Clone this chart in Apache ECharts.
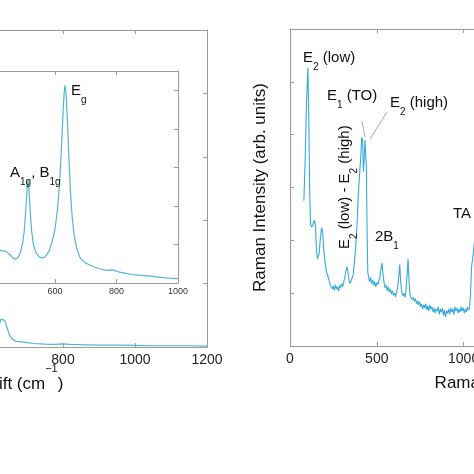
<!DOCTYPE html>
<html><head><meta charset="utf-8">
<script src="https://cdn.jsdelivr.net/npm/echarts/dist/echarts.min.js"></script>
<style>html,body{margin:0;padding:0;background:#fff}#c{width:474px;height:474px}</style>
</head><body><div id="c"></div>
<script>
// ---- Data ----
const shiftOuter = [400,500,512,530,600,620,628,633,638,645,652,660,670,685,700,720,750,780,800,820,860,900,950,1000,1050,1100,1150,1200];
const intOuter   = [0.10,0.12,0.22,0.10,0.15,0.30,0.44,0.47,0.42,0.30,0.18,0.12,0.09,0.08,0.07,0.055,0.045,0.04,0.05,0.04,0.035,0.03,0.03,0.025,0.02,0.02,0.02,0.015];

const shiftInset = [400,420,440,455,465,472,480,488,495,500,505,509,512,515,519,524,530,540,550,560,570,580,590,600,608,615,621,626,630,633,636,640,645,650,656,662,670,680,690,700,715,730,745,760,775,785,795,810,830,850,880,910,950,1000];
const intInset   = [0.90,0.85,0.82,0.72,0.64,0.62,0.66,0.80,1.05,1.35,1.90,2.40,2.67,2.45,1.90,1.35,0.98,0.76,0.67,0.65,0.70,0.82,1.05,1.40,1.90,2.60,3.50,4.40,4.95,5.13,4.90,4.30,3.30,2.40,1.70,1.25,0.92,0.68,0.58,0.52,0.46,0.41,0.37,0.34,0.33,0.34,0.32,0.28,0.25,0.22,0.20,0.18,0.14,0.11];

const shiftRight = [80,88,95,103,108,113,118,125,132,140,146,152,158,163,168,175,182,188,195,203,210,218,225,232,238,244,250,256,262,268,274,280,286,292,298,304,310,316,322,328,334,340,346,352,358,364,370,378,386,394,402,408,413,418,423,427,432,436,440,444,448,452,458,464,470,476,482,488,494,500,506,512,518,524,530,536,542,548,554,560,566,572,578,584,590,596,602,608,614,620,626,632,638,644,650,656,662,668,674,680,686,692,698,704,710,716,722,728,734,740,746,752,758,764,770,776,782,788,794,800,806,812,818,824,830,836,842,848,854,860,866,872,878,884,890,896,902,908,914,920,926,932,938,944,950,956,962,968,974,980,986,992,998,1004,1010,1016,1022,1028,1034,1040,1046,1052,1060,1070,1080,1090,1100,1120,1150,1200];
const intRight   = [2.75,3.60,4.60,5.27,4.40,3.00,2.30,2.25,2.30,2.38,2.30,1.85,1.65,1.62,1.75,2.05,2.24,2.15,1.80,1.55,1.40,1.32,1.25,1.15,1.18,1.08,1.14,1.05,1.16,1.08,1.12,1.04,1.15,1.10,1.18,1.13,1.22,1.30,1.42,1.50,1.40,1.25,1.18,1.23,1.20,1.35,1.55,1.85,2.30,2.90,3.30,3.60,3.95,3.90,3.30,3.50,3.90,3.88,3.40,2.20,1.40,1.32,1.22,1.30,1.18,1.25,1.15,1.22,1.12,1.20,1.16,1.24,1.30,1.45,1.57,1.35,1.20,1.10,1.15,1.05,1.12,1.02,1.08,0.98,1.05,0.96,1.00,0.93,1.03,1.10,1.30,1.54,1.20,1.02,0.95,1.00,0.92,1.05,1.30,1.65,1.20,0.95,0.98,0.88,0.92,0.85,0.90,0.80,0.86,0.78,0.84,0.74,0.80,0.70,0.78,0.72,0.80,0.68,0.76,0.66,0.78,0.70,0.74,0.64,0.72,0.62,0.70,0.66,0.74,0.60,0.70,0.64,0.72,0.58,0.68,0.55,0.66,0.62,0.70,0.60,0.72,0.64,0.70,0.60,0.74,0.66,0.72,0.62,0.70,0.64,0.74,0.66,0.72,0.62,0.70,0.64,0.74,0.68,0.72,1.00,1.50,1.65,1.90,2.20,2.50,2.30,1.80,1.20,0.90,0.75];

// axis ranges
const outerX = [0,1200,200], outerY = [0,5,1];
const insetX = [200,1000,200], insetY = [0,5.5,1];
const rightX = [0,2500,500], rightY = [0,6,1];
// first labelled tick visible in the cropped figure
const outerFirstLabel = 800, insetFirstLabel = 600;

const pairs = (xs, ys) => xs.map((x,i)=>[x, ys[i]]);

// ---- Styling ----
const AX = '#9a9a9a';
const FONT = 'Liberation Sans, Arial, sans-serif';
function mkAxis(kind, gridIndex, r, position, label) {
  return {
    type:'value', gridIndex, min:r[0], max:r[1], interval:r[2], position,
    axisLine:{show:true, onZero:false, lineStyle:{color:AX, width:1}},
    axisTick:{show:true, inside:true, length:4, lineStyle:{color:AX, width:1}},
    axisLabel: label ? Object.assign({show:true, color:'#222', fontFamily:FONT, formatter:v=>String(v)}, label) : {show:false},
    splitLine:{show:false}
  };
}
const nameRich = {
  m:{fontSize:17, lineHeight:17, padding:[13,0,0,0], verticalAlign:'top', color:'#111', fontFamily:FONT},
  s:{fontSize:11, lineHeight:11, verticalAlign:'top', color:'#111', fontFamily:FONT}
};
const xName = '{m|Raman Shift (cm}{s|\u22121}{m|)}';
const nameOpts = {name:xName, nameLocation:'middle', nameGap:16, nameMoveOverlap:false, nameTextStyle:{rich:nameRich}};

const xAxes = [
  Object.assign(mkAxis('x',0,outerX,'bottom',{fontSize:14, margin:6, formatter:v=> v<outerFirstLabel?'':String(v)}), nameOpts),
  mkAxis('x',0,outerX,'top',null),
  mkAxis('x',1,insetX,'bottom',{fontSize:9, margin:4, color:'#333', formatter:v=> v<insetFirstLabel?'':String(v)}),
  mkAxis('x',1,insetX,'top',null),
  Object.assign(mkAxis('x',2,rightX,'bottom',{fontSize:14, margin:6}), nameOpts),
  mkAxis('x',2,rightX,'top',null)
];
const yAxes = [
  mkAxis('y',0,outerY,'left',null),
  mkAxis('y',0,outerY,'right',null),
  mkAxis('y',1,insetY,'left',null),
  mkAxis('y',1,insetY,'right',null),
  Object.assign(mkAxis('y',2,rightY,'left',null), {name:'Raman Intensity (arb. units)', nameLocation:'middle', nameRotate:90, nameGap:21, nameMoveOverlap:false, nameTextStyle:{fontSize:17, color:'#111', fontFamily:FONT}}),
  mkAxis('y',2,rightY,'right',null)
];

const sub = (fs) => ({fontSize:fs, lineHeight:fs, padding:[12,0,0,0], verticalAlign:'top', fill:'#111', fontFamily:FONT});
const mainT = (fs) => ({fontSize:fs, lineHeight:fs, verticalAlign:'top', fill:'#111', fontFamily:FONT});
function label(x, y, text, rot) {
  return {type:'text', x, y, rotation: rot||0, z:100,
    style:{text, fill:'#111', font:'15px '+FONT, align:'left', verticalAlign:'top',
      rich:{m:mainT(15), s:sub(10)}}};
}
const LC = '#aaaaaa';
const graphics = [
  label(303,50,'{m|E}{s|2}{m| (low)}'),
  label(327,88,'{m|E}{s|1}{m| (TO)}'),
  label(390,95,'{m|E}{s|2}{m| (high)}'),
  label(375,229,'{m|2B}{s|1}'),
  label(453,206,'{m|TA}'),
  label(71,83,'{m|E}{s|g}'),
  label(10,165,'{m|A}{s|1g}{m|, B}{s|1g}'),
  label(337,249,'{m|E}{s|2}{m| (low) - E}{s|2}{m| (high)}', Math.PI/2),
  {type:'line', z:100, shape:{x1:362,y1:121,x2:365,y2:137}, style:{stroke:LC, lineWidth:1}},
  {type:'line', z:100, shape:{x1:387,y1:112,x2:370,y2:139}, style:{stroke:LC, lineWidth:1}}
];

const gridBase = {containLabel:false, outerBoundsMode:'none'};
const chart = echarts.init(document.getElementById('c'), null, {renderer:'canvas'});
chart.setOption({
  backgroundColor:'#fff',
  animation:false,
  textStyle:{fontFamily:FONT},
  grid:[
    Object.assign({left:-225, top:30, width:432, height:317}, gridBase),
    Object.assign({left:-68, top:71, width:246, height:212, show:true, backgroundColor:'#fff', borderWidth:0}, gridBase),
    Object.assign({left:290, top:29, width:434, height:317}, gridBase)
  ],
  xAxis:xAxes, yAxis:yAxes,
  series:[
    {type:'line', xAxisIndex:0, yAxisIndex:0, data:pairs(shiftOuter,intOuter), showSymbol:false, lineStyle:{color:'#52b6d6', width:1.2}},
    {type:'line', xAxisIndex:2, yAxisIndex:2, data:pairs(shiftInset,intInset), showSymbol:false, lineStyle:{color:'#52b6d6', width:1.2}},
    {type:'line', xAxisIndex:4, yAxisIndex:4, data:pairs(shiftRight,intRight), showSymbol:false, lineStyle:{color:'#38a9dd', width:1.1}}
  ],
  graphic:graphics
});
</script></body></html>
